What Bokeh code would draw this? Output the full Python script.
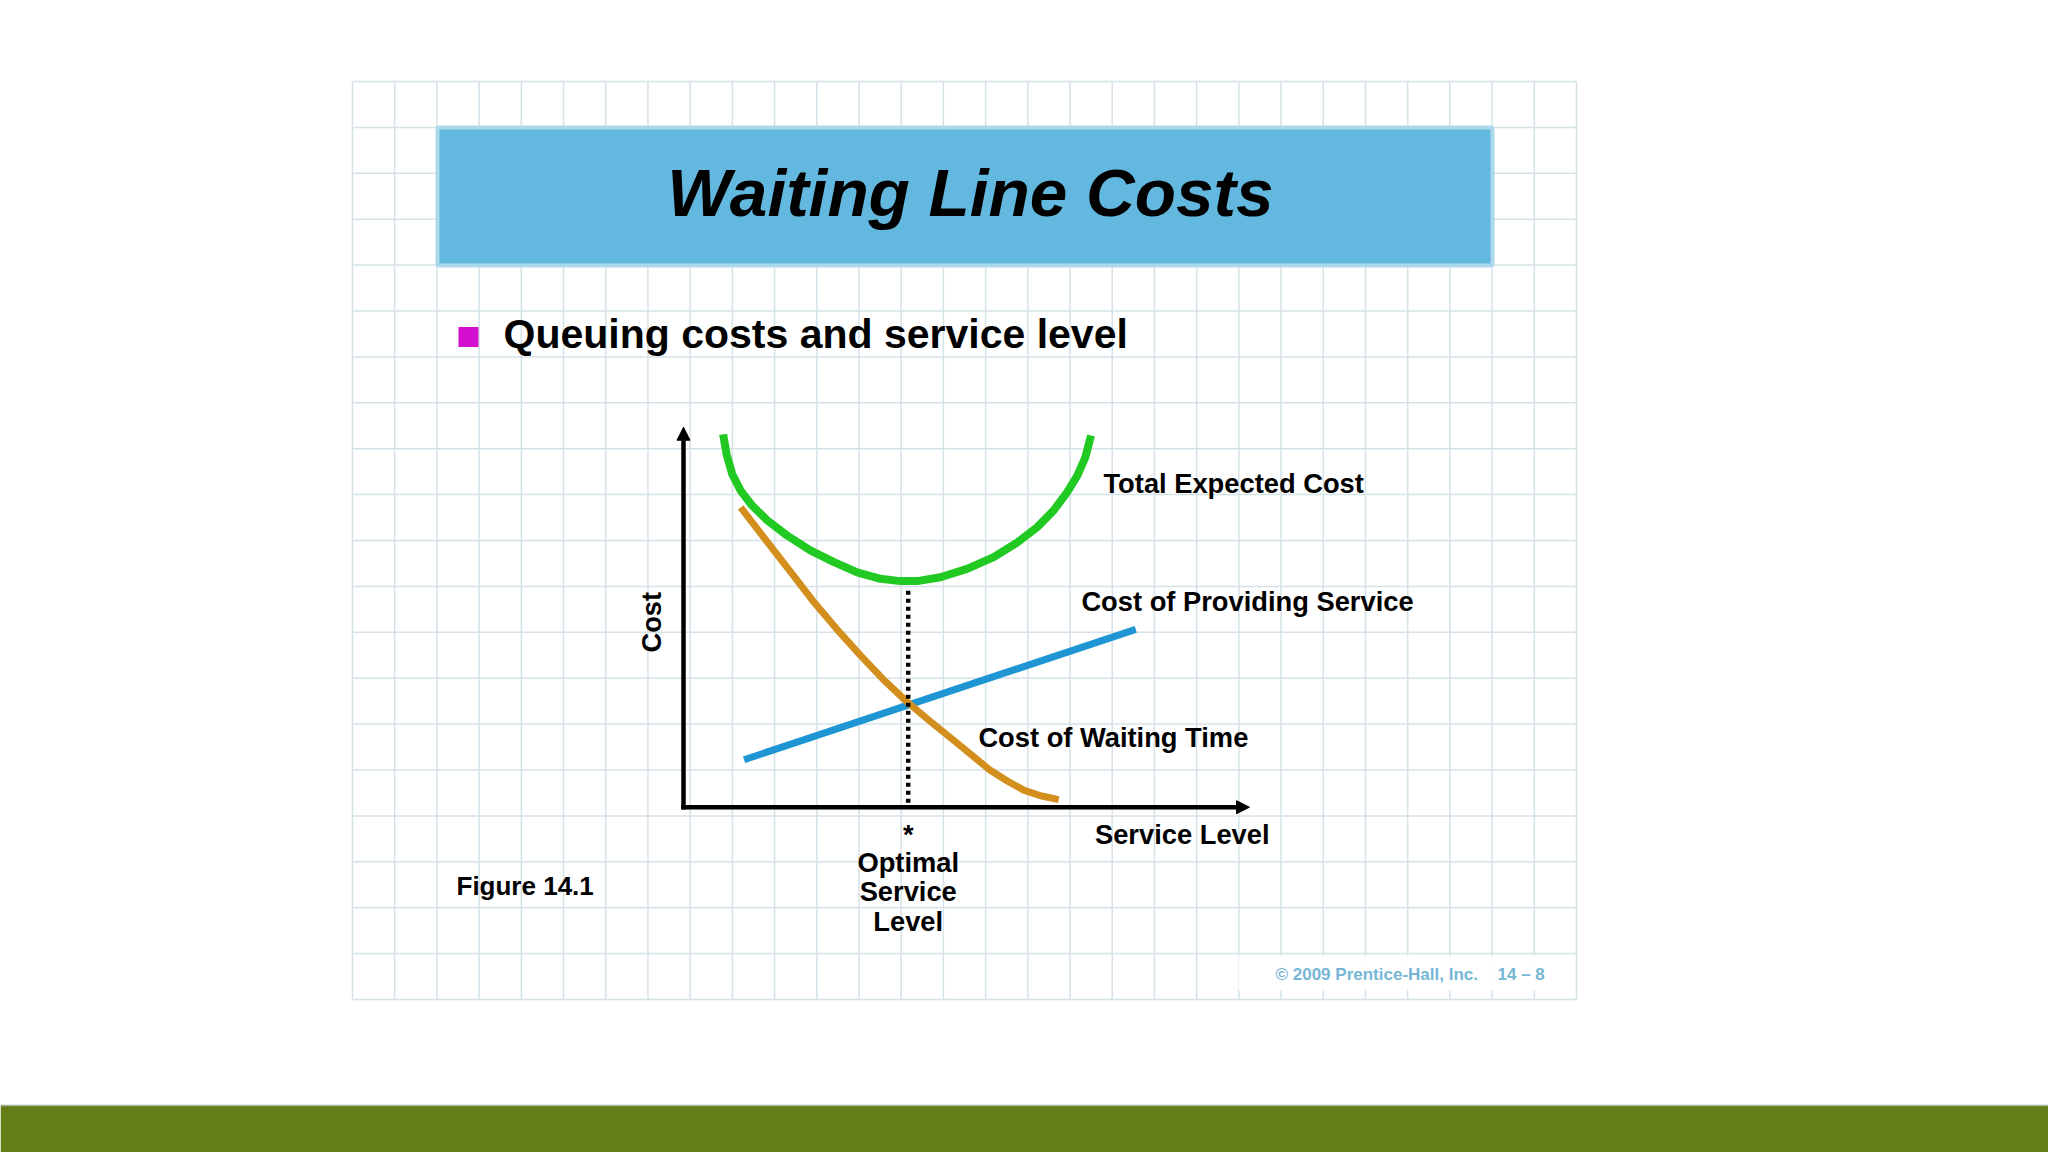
from bokeh.plotting import figure
from bokeh.models import Range1d, Arrow, NormalHead
from bokeh.core.properties import value
from bokeh.embed import file_html
from bokeh.resources import INLINE

# ---------------- data (chart units: service level -> x, cost -> y) ----------------
total_level = [0.70, 0.76, 0.86, 1.01, 1.21, 1.48, 1.83, 2.24, 2.66, 3.07, 3.48, 3.83,
               4.13, 4.54, 5.01, 5.48, 5.90, 6.25, 6.54, 6.78, 6.96, 7.10, 7.20]
total_cost = [9.81, 9.30, 8.77, 8.33, 7.94, 7.55, 7.15, 6.76, 6.45, 6.18, 6.01, 5.95,
              5.95, 6.05, 6.27, 6.58, 6.97, 7.37, 7.81, 8.29, 8.73, 9.21, 9.78]

waiting_level = [1.01, 1.31, 1.61, 1.93, 2.28, 2.70, 3.13, 3.55, 3.96, 4.36, 4.84, 5.42,
                 5.72, 6.01, 6.31, 6.63]
waiting_cost = [7.89, 7.31, 6.73, 6.12, 5.44, 4.70, 3.99, 3.33, 2.76, 2.26, 1.68, 0.97,
                0.69, 0.45, 0.30, 0.20]

service_level = [1.07, 7.99]
service_cost = [1.25, 4.68]

optimal_level = 3.97
optimal_top = 5.70
axis_max_level = 10.0
axis_max_cost = 10.0

curve_labels = ["Total Expected Cost", "Cost of Providing Service", "Cost of Waiting Time", "Service Level"]
curve_label_x = [7.42, 7.03, 5.21, 7.27]
curve_label_y = [8.28, 5.15, 1.58, -0.96]
optimal_lines = ["Optimal", "Service", "Level"]
optimal_line_y = [-1.71, -2.47, -3.25]

title_text = "Waiting Line Costs"
bullet_text = "Queuing costs and service level"
figure_note = "Figure 14.1"
copyright_text = "\u00a9 2009 Prentice-Hall, Inc."
slide_number = "14 \u2013 8"

# ---------------- page geometry (page pixels -> chart units) ----------------
ORIGIN_X, ORIGIN_Y = 683.0, 806.7     # page px of the chart origin
UNIT_X, UNIT_Y = 56.6, 38.0           # px per chart unit
SHIFT = 0.35                          # baseline correction (fraction of font size)


def dx(px):
    return (px - ORIGIN_X) / UNIT_X


def dy(py):
    return (ORIGIN_Y - py) / UNIT_Y


def tb(baseline_px, fs):
    return dy(baseline_px - SHIFT * fs)


W, H = 2048, 1152
FONT = value("Liberation Sans")
LFS = 27.3
lshift = SHIFT * LFS / UNIT_Y

p = figure(width=W, height=H, output_backend="svg", toolbar_location=None, tools="",
           x_range=Range1d(dx(0), dx(W)), y_range=Range1d(dy(H), dy(0)),
           x_axis_location=None, y_axis_location=None, min_border=0)
p.grid.grid_line_color = None
p.outline_line_color = None
p.background_fill_color = "white"
p.border_fill_color = "white"

# slide grid
SL, SR, ST, SB = 352.0, 1576.0, 81.0, 999.0
ncol, nrow = 29, 20
vx = [SL + k * (SR - SL) / ncol for k in range(ncol + 1)]
hy = [ST + k * (SB - ST) / nrow for k in range(nrow + 1)]
grid_col = "#d5e2e8"
p.segment(x0=[dx(v) for v in vx], y0=dy(ST), x1=[dx(v) for v in vx], y1=dy(SB),
          line_color=grid_col, line_width=1.5)
p.segment(x0=dx(SL), y0=[dy(h) for h in hy], x1=dx(SR), y1=[dy(h) for h in hy],
          line_color=grid_col, line_width=1.5)

# title bar
p.quad(left=dx(437), right=dx(1492), top=dy(127), bottom=dy(265),
       fill_color="#62b8de", line_color="#acd8ec", line_width=4)
p.text(x=[dx(970)], y=[tb(215.5, 67.5)], text=[title_text], text_font=FONT,
       text_font_size=value("67.5px"), text_font_style=value("bold italic"),
       text_color="#000000", text_align=value("center"), text_baseline=value("alphabetic"))

# bullet
p.quad(left=dx(458), right=dx(478), top=dy(326.5), bottom=dy(346.5),
       fill_color="#d30fd0", line_color=None)
p.text(x=[dx(503)], y=[tb(348.3, 41)], text=[bullet_text], text_font=FONT,
       text_font_size=value("41px"), text_font_style=value("bold"),
       text_color="#000000", text_align=value("left"), text_baseline=value("alphabetic"))

# chart curves
p.line(service_level, service_cost, line_color="#1f96d3", line_width=7, line_cap="butt")
p.line(waiting_level, waiting_cost, line_color="#d38f1d", line_width=7, line_cap="butt",
       line_join="round")
p.line(total_level, total_cost, line_color="#22c922", line_width=8, line_cap="butt",
       line_join="round")
p.segment(x0=[optimal_level], y0=[0.12], x1=[optimal_level], y1=[optimal_top],
          line_color="black", line_width=4.5, line_dash="4 4", line_cap="butt")

# axes with arrow heads
for xs, ys, xe, ye in [(-0.04, 0.0, axis_max_level, 0.0), (0.0, -0.06, 0.0, axis_max_cost)]:
    p.add_layout(Arrow(x_start=xs, y_start=ys, x_end=xe, y_end=ye, line_width=4.5,
                       line_color="black",
                       end=NormalHead(size=13, fill_color="black", line_color="black", line_width=1)))

# chart labels
lab_style = dict(text_font=FONT, text_font_size=value(f"{LFS}px"), text_font_style=value("bold"),
                 text_color="#000000", text_baseline=value("alphabetic"))
p.text(x=curve_label_x, y=[v + lshift for v in curve_label_y], text=curve_labels,
       text_align=value("left"), **lab_style)
p.text(x=[dx(660.7 - SHIFT * LFS)], y=[dy(621.7)], text=["Cost"], angle=1.5708,
       text_align=value("center"), **lab_style)
p.text(x=[optimal_level], y=[-0.96 + lshift], text=["*"], text_align=value("center"), **lab_style)
p.text(x=[optimal_level] * 3, y=[v + lshift for v in optimal_line_y], text=optimal_lines,
       text_align=value("center"), **lab_style)
p.text(x=[dx(456)], y=[tb(895, 26)], text=[figure_note], text_font=FONT,
       text_font_size=value("26px"), text_font_style=value("bold"), text_color="#000000",
       text_align=value("left"), text_baseline=value("alphabetic"))

# copyright footer
p.quad(left=dx(1238), right=dx(1574), top=dy(955), bottom=dy(990),
       fill_color="white", fill_alpha=0.9, line_color=None)
p.text(x=[dx(1275), dx(1497)], y=[tb(979.7, 17), tb(979.7, 17)], text=[copyright_text, slide_number],
       text_font=FONT, text_font_size=value("17px"), text_font_style=value("bold"),
       text_color="#76b6d5", text_align=value("left"), text_baseline=value("alphabetic"))

# bottom green band
p.quad(left=dx(0), right=dx(W), top=dy(1105), bottom=dy(H),
       fill_color="#637d17", line_color=None)
p.segment(x0=[dx(0)], y0=[dy(1105)], x1=[dx(W)], y1=[dy(1105)], line_color="#a9b196", line_width=1.5)

open("out.html", "w").write(file_html(p, INLINE))
